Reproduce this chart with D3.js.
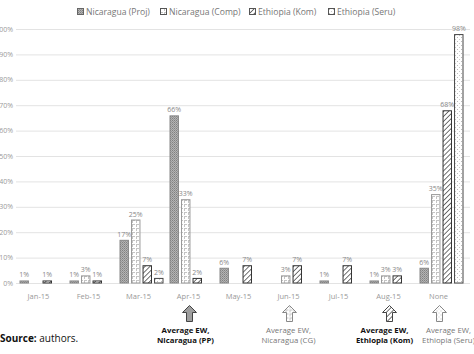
<!DOCTYPE html>
<html>
<head>
<meta charset="utf-8">
<script src="https://cdn.jsdelivr.net/npm/d3@7"></script>
<style>
  body { margin: 0; background: #fff; }
  svg { display: block; font-family: "Open Sans", "Noto Sans", sans-serif; }
</style>
</head>
<body>
<div class="chart"></div>
<script>
const categories = ["Jan-15", "Feb-15", "Mar-15", "Apr-15", "May-15", "Jun-15", "Jul-15", "Aug-15", "None"];
const seriesNames = ["Nicaragua (Proj)", "Nicaragua (Comp)", "Ethiopia (Kom)", "Ethiopia (Seru)"];
const proj = [1, 1, 17, 66, 6, 0, 1, 1, 6];
const comp = [0, 3, 25, 33, 0, 3, 0, 3, 35];
const kom = [1, 1, 7, 2, 7, 7, 7, 3, 68];
const seru = [0, 0, 2, 0, 0, 0, 0, 0, 98];
const yTicks = [0, 10, 20, 30, 40, 50, 60, 70, 80, 90, 100];
const annotations = [
  { cat: "Apr-15", series: 0, lines: ["Average EW,", "Nicaragua (PP)"], bold: true, dx: -4 },
  { cat: "Jun-15", series: 1, lines: ["Average EW,", "Nicaragua (CG)"], bold: false, dx: -1 },
  { cat: "Aug-15", series: 2, lines: ["Average EW,", "Ethiopia (Kom)"], bold: true, dx: -5 },
  { cat: "None", series: 3, lines: ["Average EW,", "Ethiopia (Seru)"], bold: false, dx: 9 },
];

const series = [proj, comp, kom, seru];
const width = 474, height = 354;

const svg = d3.select(".chart").append("svg")
  .attr("width", width).attr("height", height);

// patterns
const defs = svg.append("defs");
const p0 = defs.append("pattern").attr("id", "pat0").attr("patternUnits", "userSpaceOnUse")
  .attr("width", 2).attr("height", 2);
p0.append("rect").attr("width", 2).attr("height", 2).attr("fill", "#b4b4b4");
p0.append("rect").attr("width", 1).attr("height", 1).attr("fill", "#808080");
p0.append("rect").attr("x", 1).attr("y", 1).attr("width", 1).attr("height", 1).attr("fill", "#959595");

const p1 = defs.append("pattern").attr("id", "pat1").attr("patternUnits", "userSpaceOnUse")
  .attr("width", 4).attr("height", 4);
p1.append("rect").attr("width", 4).attr("height", 4).attr("fill", "#fff");
p1.append("path").attr("d", "M0,0.5H3M0.5,0V3").attr("stroke", "#c4c4c4").attr("stroke-width", 1);

const p2 = defs.append("pattern").attr("id", "pat2").attr("patternUnits", "userSpaceOnUse")
  .attr("width", 3.5).attr("height", 3.5).attr("patternTransform", "rotate(45)");
p2.append("rect").attr("width", 3.5).attr("height", 3.5).attr("fill", "#fff");
p2.append("line").attr("x1", 0).attr("y1", 0).attr("x2", 0).attr("y2", 3.5)
  .attr("stroke", "#444").attr("stroke-width", 1.5);

const p3 = defs.append("pattern").attr("id", "pat3").attr("patternUnits", "userSpaceOnUse")
  .attr("width", 4).attr("height", 4);
p3.append("rect").attr("width", 4).attr("height", 4).attr("fill", "#fff");
p3.append("rect").attr("x", 1).attr("y", 1).attr("width", 1).attr("height", 1).attr("fill", "#bbb");
p3.append("rect").attr("x", 3).attr("y", 3).attr("width", 1).attr("height", 1).attr("fill", "#ccc");

const fills = ["url(#pat0)", "url(#pat1)", "url(#pat2)", "url(#pat3)"];
const strokes = ["#888", "#999", "#333", "#444"];

const x = d3.scaleBand().domain(categories).range([16.5, 466.5]).padding(0);
const inner = d3.scaleBand().domain(d3.range(4)).range([-22, 22]).paddingInner(0.18);
const y = d3.scaleLinear().domain([0, 100]).range([283, 29]);

// grid
svg.append("g").selectAll("line").data(yTicks).enter().append("line")
  .attr("x1", 16).attr("x2", 470)
  .attr("y1", d => y(d) + 0.5).attr("y2", d => y(d) + 0.5)
  .attr("stroke", "#e3e3e3").attr("stroke-width", 1);

svg.append("g").selectAll("text").data(yTicks).enter().append("text")
  .attr("x", 13).attr("y", d => y(d) + 2.5)
  .attr("text-anchor", "end").attr("font-size", 7).attr("fill", "#9a9a9a")
  .text(d => d + "%");

// bars
series.forEach((vals, si) => {
  const data = categories.map((c, i) => ({ c, v: vals[i] })).filter(d => d.v > 0);
  const g = svg.append("g");
  g.selectAll("rect").data(data).enter().append("rect")
    .attr("x", d => x(d.c) + x.bandwidth() / 2 + inner(si) + 0.5)
    .attr("y", d => y(d.v) + 0.5)
    .attr("width", inner.bandwidth() - 1)
    .attr("height", d => y(0) - y(d.v) - 0.5)
    .attr("fill", fills[si]).attr("stroke", strokes[si]).attr("stroke-width", 1);
  g.selectAll("text").data(data).enter().append("text")
    .attr("x", d => x(d.c) + x.bandwidth() / 2 + inner(si) + inner.bandwidth() / 2)
    .attr("y", d => y(d.v) - 3)
    .attr("text-anchor", "middle").attr("font-size", 7).attr("fill", "#888")
    .text(d => d.v + "%");
});

// x labels
svg.append("g").selectAll("text").data(categories).enter().append("text")
  .attr("x", d => x(d) + x.bandwidth() / 2 - 3)
  .attr("y", 299)
  .attr("text-anchor", "middle").attr("font-size", 7.5).attr("fill", "#999")
  .text(d => d);

// legend
const legendX = [77, 160, 249, 328];
const legend = svg.append("g");
seriesNames.forEach((name, i) => {
  legend.append("rect").attr("x", legendX[i] + 0.5).attr("y", 8.5).attr("width", 6).attr("height", 6)
    .attr("fill", fills[i]).attr("stroke", i === 0 ? "#666" : "#555");
  legend.append("text").attr("x", legendX[i] + 9).attr("y", 14.5)
    .attr("font-size", 8.6).attr("fill", "#777").text(name);
});

// arrows
const arrowPath = "M0,-8L7,-1L3,-1L3,8L-3,8L-3,-1L-7,-1Z";
annotations.forEach(a => {
  const cx = x(a.cat) + x.bandwidth() / 2 - 2;
  svg.append("path").attr("d", arrowPath)
    .attr("transform", `translate(${cx},${313.5})`)
    .attr("fill", fills[a.series]).attr("stroke", a.bold ? "#444" : "#888").attr("stroke-width", 1);
  const t = svg.append("text").attr("text-anchor", "middle")
    .attr("font-size", 7.8).attr("fill", a.bold ? "#111" : "#777")
    .attr("font-weight", a.bold ? "bold" : "normal");
  a.lines.forEach((l, li) => {
    t.append("tspan").attr("x", cx + a.dx).attr("y", 333 + li * 9.5).text(l);
  });
});

// source
svg.append("text").attr("x", 0).attr("y", 342).attr("font-size", 10).attr("fill", "#111")
  .call(t => {
    t.append("tspan").attr("font-weight", "bold").text("Source:");
    t.append("tspan").text(" authors.");
  });
</script>
</body>
</html>
